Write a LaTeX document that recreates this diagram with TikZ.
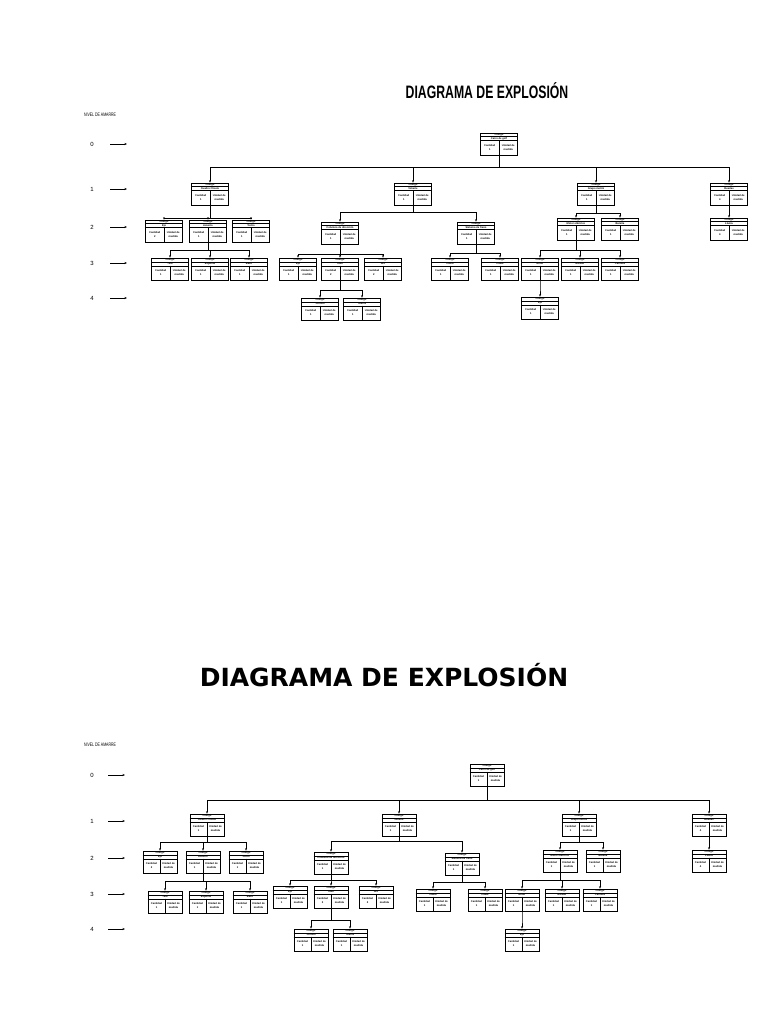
\documentclass[tikz,border=0pt]{standalone}
\usepackage{fontspec}
\setmainfont{Liberation Sans}
\newfontfamily\titf{DejaVu Sans}
\usetikzlibrary{arrows.meta}
\tikzset{bomb/.style={draw,line width=0.6pt,inner sep=0,minimum height=22pt},
 tx/.style={inner sep=0,font=\fontsize{2.6}{2.9}\selectfont\bfseries,align=center},
 con/.style={line width=0.45pt,-{Stealth[length=2.5pt,width=2pt]}},
 lvl/.style={font=\fontsize{6}{7}\selectfont}}
% name, x, y, width, code, title, qty
\newcommand\bx[7]{%
 \node[bomb,minimum width=#4pt] (#1) at (#2,#3) {};
 \draw[line width=0.4pt] ([yshift=-4pt]#1.north west) -- ([yshift=-4pt]#1.north east)
   ([yshift=-8pt]#1.north west) -- ([yshift=-8pt]#1.north east)
   ([yshift=-8pt]#1.north) -- (#1.south);
 \node[tx] at ([yshift=-2pt]#1.north) {#5};
 \node[tx] at ([yshift=-6pt]#1.north) {#6};
 \node[tx] at ([xshift=-#4/4 pt,yshift=-14.5pt]#1.north) {Cantidad\\[1pt]#7};
 \node[tx] at ([xshift=#4/4 pt,yshift=-14.5pt]#1.north) {Unidad de\\[1pt]medida};}
\newcommand\cn[3]{\foreach \cc in {#3}{\draw[con] (#1.south) -- (#1.south |- 0,#2) -| (\cc.north);}}
\begin{document}
\begin{tikzpicture}[x=1pt,y=-1pt]
\useasboundingbox (0,0) rectangle (768,1024);
% ---------- TOP ----------
\node[font=\fontsize{18}{19}\selectfont\bfseries,xscale=0.68] (t1) at (487,91) {DIAGRAMA DE EXPLOSIÓN};
\node[font=\fontsize{5}{6}\selectfont,xscale=0.7] (n1) at (100,115) {NIVEL DE AMARRE};
\foreach \l/\y in {0/144,1/189,2/227,3/263,4/298}{\node[lvl] (a\l) at (92,\y) {\l}; \coordinate (b\l) at (127,\y); \draw[con] (110,\y) -- (b\l);}
\def\w{37}
\bx{r}{499}{144}{\w}{Código}{Carro de golf}{1}
\bx{A}{210}{194}{\w}{Código}{Cuadro Chasis}{1}
\bx{B}{413}{194}{\w}{Código}{Volante}{1}
\bx{C}{596}{194}{\w}{Código}{Grupo motriz}{1}
\bx{D}{729}{194}{\w}{Código}{Ruedas}{4}
\bx{A1}{164}{231}{\w}{Código}{Eje}{2}
\bx{A2}{208}{231}{\w}{Código}{Asiento}{1}
\bx{A3}{251}{231}{\w}{Código}{Techo}{1}
\bx{A21}{170}{269}{\w}{Código}{Tela}{1}
\bx{A22}{210}{269}{\w}{Código}{Espuma}{1}
\bx{A23}{249}{269}{\w}{Código}{Base}{1}
\bx{B1}{340}{233}{\w}{Código}{Columna de dirección}{1}
\bx{B2}{476}{233}{\w}{Código}{Sistema de freno}{1}
\bx{B11}{298}{269}{\w}{Código}{Eje}{1}
\bx{B12}{340}{269}{\w}{Código}{Tubo}{2}
\bx{B13}{383}{269}{\w}{Código}{Aro}{2}
\bx{B121}{320}{309}{\w}{Código}{Tornillo}{1}
\bx{B122}{362}{309}{\w}{Código}{Tuerca}{1}
\bx{B21}{450}{269}{\w}{Código}{Pedal}{1}
\bx{B22}{500}{269}{\w}{Código}{Cable}{1}
\bx{C1}{576}{229}{\w}{Código}{Motor eléctrico}{1}
\bx{C2}{620}{229}{\w}{Código}{Batería}{1}
\bx{C11}{540}{269}{\w}{Código}{Rotor}{1}
\bx{C12}{580}{269}{\w}{Código}{Estator}{1}
\bx{C13}{620}{269}{\w}{Código}{Carcasa}{1}
\bx{C111}{540}{308}{\w}{Código}{Eje}{1}
\bx{D1}{729}{229}{\w}{Código}{Llanta}{4}
\cn{r}{167}{A,B,C,D}
\cn{A}{218}{A1,A2,A3}
\cn{A2}{250}{A21,A22,A23}
\cn{B}{212}{B1,B2}
\cn{B1}{254}{B11,B12,B13}
\cn{B12}{290}{B121,B122}
\cn{B2}{253}{B21,B22}
\cn{C}{213}{C1,C2}
\cn{C1}{250}{C11,C12,C13}
\cn{C11}{288}{C111}
\cn{D}{212}{D1}
% ---------- BOTTOM ----------
\node[font=\titf\fontsize{25}{27}\selectfont\bfseries] (t2) at (384,675) {DIAGRAMA DE EXPLOSIÓN};
\node[font=\fontsize{5}{6}\selectfont,xscale=0.7] (n2) at (100,745) {NIVEL DE AMARRE};
\foreach \l/\y in {0/775,1/821,2/858,3/894,4/929}{\node[lvl] (c\l) at (92,\y) {\l}; \coordinate (d\l) at (125,\y); \draw[con] (108,\y) -- (d\l);}
\def\w{34}
\bx{s}{487}{775}{\w}{Código}{Carro de golf}{1}
\bx{E}{207}{825}{\w}{Código}{Cuadro Chasis}{1}
\bx{F}{399}{825}{\w}{Código}{Volante}{1}
\bx{G}{579}{825}{\w}{Código}{Grupo motriz}{1}
\bx{H}{709}{825}{\w}{Código}{Ruedas}{4}
\bx{E1}{160}{862}{\w}{Código}{Eje}{2}
\bx{E2}{203}{862}{\w}{Código}{Asiento}{1}
\bx{E3}{246}{862}{\w}{Código}{Techo}{1}
\bx{E21}{165}{902}{\w}{Código}{Tela}{1}
\bx{E22}{206}{902}{\w}{Código}{Espuma}{1}
\bx{E23}{250}{902}{\w}{Código}{Base}{1}
\bx{F1}{331}{863}{\w}{Código}{Columna de dirección}{1}
\bx{F2}{462}{864}{\w}{Código}{Sistema de freno}{1}
\bx{F11}{290}{897}{\w}{Código}{Eje}{1}
\bx{F12}{331}{897}{\w}{Código}{Tubo}{2}
\bx{F13}{376}{897}{\w}{Código}{Aro}{2}
\bx{F121}{311}{940}{\w}{Código}{Tornillo}{1}
\bx{F122}{350}{940}{\w}{Código}{Tuerca}{1}
\bx{F21}{433}{900}{\w}{Código}{Pedal}{1}
\bx{F22}{485}{900}{\w}{Código}{Cable}{1}
\bx{G1}{560}{861}{\w}{Código}{Motor eléctrico}{1}
\bx{G2}{603}{861}{\w}{Código}{Batería}{1}
\bx{G11}{522}{900}{\w}{Código}{Rotor}{1}
\bx{G12}{562}{900}{\w}{Código}{Estator}{1}
\bx{G13}{600}{900}{\w}{Código}{Carcasa}{1}
\bx{G111}{522}{940}{\w}{Código}{Eje}{1}
\bx{H1}{709}{861}{\w}{Código}{Llanta}{4}
\cn{s}{800}{E,F,G,H}
\cn{E}{842}{E1,E2,E3}
\cn{E2}{881}{E21,E22,E23}
\cn{F}{841}{F1,F2}
\cn{F1}{880}{F11,F12,F13}
\cn{F12}{920}{F121,F122}
\cn{F2}{882}{F21,F22}
\cn{G}{842}{G1,G2}
\cn{G1}{880}{G11,G12,G13}
\cn{G11}{920}{G111}
\cn{H}{842}{H1}
\end{tikzpicture}
\end{document}
